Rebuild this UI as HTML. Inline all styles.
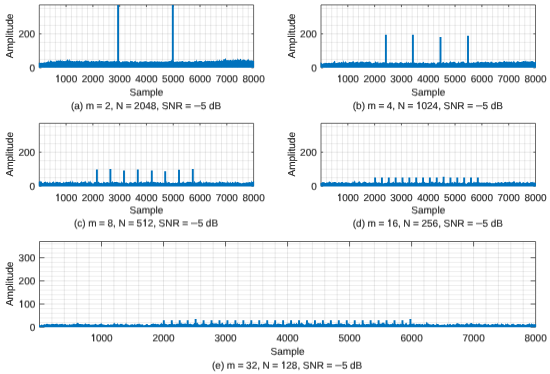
<!DOCTYPE html>
<html><head><meta charset="utf-8"><title>Figure</title>
<style>html,body{margin:0;padding:0;background:#fff;width:550px;height:374px;overflow:hidden}body{position:relative}</style>
</head><body>
<svg width="550" height="374" viewBox="0 0 550 374" style="position:absolute;left:0;top:0;filter:blur(0.35px)">
<defs><filter id="sf1" x="-5%" y="-40%" width="110%" height="180%"><feConvolveMatrix order="1 3" kernelMatrix="0 0.9 0.1" edgeMode="none"/></filter><filter id="sf2" x="-5%" y="-40%" width="110%" height="180%"><feConvolveMatrix order="1 3" kernelMatrix="0 0.8 0.2" edgeMode="none"/></filter><filter id="sf3" x="-5%" y="-40%" width="110%" height="180%"><feConvolveMatrix order="1 3" kernelMatrix="0 0.7 0.3" edgeMode="none"/></filter><filter id="sf4" x="-5%" y="-40%" width="110%" height="180%"><feConvolveMatrix order="1 3" kernelMatrix="0 0.6 0.4" edgeMode="none"/></filter><filter id="sf5" x="-5%" y="-40%" width="110%" height="180%"><feConvolveMatrix order="1 3" kernelMatrix="0 0.5 0.5" edgeMode="none"/></filter><filter id="sf6" x="-5%" y="-40%" width="110%" height="180%"><feConvolveMatrix order="1 3" kernelMatrix="0 0.4 0.6" edgeMode="none"/></filter><filter id="sf7" x="-5%" y="-40%" width="110%" height="180%"><feConvolveMatrix order="1 3" kernelMatrix="0 0.3 0.7" edgeMode="none"/></filter><filter id="sf8" x="-5%" y="-40%" width="110%" height="180%"><feConvolveMatrix order="1 3" kernelMatrix="0 0.2 0.8" edgeMode="none"/></filter><filter id="sf9" x="-5%" y="-40%" width="110%" height="180%"><feConvolveMatrix order="1 3" kernelMatrix="0 0.1 0.9" edgeMode="none"/></filter></defs>
<rect width="550" height="374" fill="#ffffff"/>
<g><path d="M44.66 4.9V67.9M50.02 4.9V67.9M55.37 4.9V67.9M60.73 4.9V67.9M71.44 4.9V67.9M76.8 4.9V67.9M82.16 4.9V67.9M87.52 4.9V67.9M98.23 4.9V67.9M103.59 4.9V67.9M108.95 4.9V67.9M114.31 4.9V67.9M125.02 4.9V67.9M130.38 4.9V67.9M135.74 4.9V67.9M141.09 4.9V67.9M151.81 4.9V67.9M157.17 4.9V67.9M162.52 4.9V67.9M167.88 4.9V67.9M178.6 4.9V67.9M183.95 4.9V67.9M189.31 4.9V67.9M194.67 4.9V67.9M205.38 4.9V67.9M210.74 4.9V67.9M216.1 4.9V67.9M221.46 4.9V67.9M232.17 4.9V67.9M237.53 4.9V67.9M242.88 4.9V67.9M248.24 4.9V67.9" stroke="#000000" stroke-opacity="0.105" stroke-width="0.8" fill="none"/><path d="M39.3 59.39H253.6M39.3 50.87H253.6M39.3 42.36H253.6M39.3 25.33H253.6M39.3 16.82H253.6M39.3 8.31H253.6" stroke="#000000" stroke-opacity="0.085" stroke-width="0.8" fill="none"/><path d="M66.09 4.9V67.9M92.88 4.9V67.9M119.66 4.9V67.9M146.45 4.9V67.9M173.24 4.9V67.9M200.03 4.9V67.9M226.81 4.9V67.9M39.3 33.85H253.6" stroke="#000000" stroke-opacity="0.1" stroke-width="0.85" fill="none"/><path d="M39.3 67.3V4.9H253.6V67.3M66.09 4.9v2.14M92.88 4.9v2.14M119.66 4.9v2.14M146.45 4.9v2.14M173.24 4.9v2.14M200.03 4.9v2.14M226.81 4.9v2.14M39.3 67.9h2.14M253.6 67.9h-2.14M39.3 33.85h2.14M253.6 33.85h-2.14" stroke="#3a3a3a" stroke-width="0.75" fill="none"/><path d="M38.8 67.8L38.8 62.75L39.3 62.75L39.8 62.74L40.3 62.75L40.8 62.92L41.3 62.81L41.8 62.76L42.3 62.95L42.8 62.79L43.3 62.81L43.8 62.52L44.3 62.45L44.79 62.16L45.29 62.44L45.79 62.4L46.29 62.37L46.79 61.93L47.29 61.77L47.79 61.76L48.29 60.04L48.79 62.11L49.29 62.28L49.79 61.57L50.29 60.68L50.79 60.29L51.29 60.79L51.79 61.24L52.29 61.29L52.79 61.92L53.29 61.56L53.79 61.39L54.29 61.36L54.79 61.79L55.29 62.03L55.78 61.36L56.28 60.76L56.78 60.61L57.28 60.75L57.78 60.84L58.28 60.61L58.78 60.54L59.28 60.59L59.78 60.72L60.28 60.76L60.78 59.18L61.28 60.91L61.78 61.04L62.28 59.99L62.78 61.48L63.28 61.12L63.78 61.09L64.28 60.88L64.78 61.32L65.28 60.86L65.78 61.23L66.27 61L66.77 59.93L67.27 59.43L67.77 59.47L68.27 59.97L68.77 60.9L69.27 60.61L69.77 58.75L70.27 60.73L70.77 61.07L71.27 61.22L71.77 60.92L72.27 60.93L72.77 61.05L73.27 61.4L73.77 61.13L74.27 61.02L74.77 61.16L75.27 61.6L75.77 61.32L76.27 60.88L76.77 60.63L77.26 60.61L77.76 61.19L78.26 61.27L78.76 60.97L79.26 60.47L79.76 60.65L80.26 61.25L80.76 61.39L81.26 61.17L81.76 61.11L82.26 61.4L82.76 61.63L83.26 61.58L83.76 61.44L84.26 61.16L84.76 60.74L85.26 60.24L85.76 60.66L86.26 60.6L86.76 60.81L87.26 60.93L87.75 60.76L88.25 60.4L88.75 61.24L89.25 61.58L89.75 61.67L90.25 61.81L90.75 61.42L91.25 60.72L91.75 61.08L92.25 61.27L92.75 61.49L93.25 61.08L93.75 61.07L94.25 61.46L94.75 61.44L95.25 61.49L95.75 61.1L96.25 61.21L96.75 60.95L97.25 61.31L97.75 61.58L98.24 61.46L98.74 60.66L99.24 60.43L99.74 60.07L100.24 60.64L100.74 61.38L101.24 60.89L101.74 60.93L102.24 61.13L102.74 60.9L103.24 61.25L103.74 61.28L104.24 61.45L104.74 61.27L105.24 61.16L105.74 61.02L106.24 60.82L106.74 61.05L107.24 60.85L107.74 60.81L108.24 61.19L108.74 61.47L109.23 61.74L109.73 61.5L110.23 61.41L110.73 61.37L111.23 61.36L111.73 61.54L112.23 61.31L112.73 61.42L113.23 61.2L113.73 61.23L114.23 60.79L114.73 60.85L115.23 61.54L115.73 61.47L116.23 61.62L116.73 60.66L117.23 60.97L117.73 61.16L118.23 61.65L118.73 61.5L119.23 61.33L119.72 60.87L120.22 61.91L120.72 62.36L121.22 62.24L121.72 61.92L122.22 61.39L122.72 61.33L123.22 61.51L123.72 61.54L124.22 61.61L124.72 61.16L125.22 61.38L125.72 61.2L126.22 61.33L126.72 61.28L127.22 61.77L127.72 61.11L128.22 62.08L128.72 61.52L129.22 62.13L129.72 62.32L130.22 60.51L130.71 61.34L131.21 61.14L131.71 61.04L132.21 61.29L132.71 61.16L133.21 61.87L133.71 62.08L134.21 61.51L134.71 61.21L135.21 60.56L135.71 61.54L136.21 61.58L136.71 62.13L137.21 61.58L137.71 62.01L138.21 62.39L138.71 62.4L139.21 62.03L139.71 61.35L140.21 61.62L140.71 61.21L141.2 61.86L141.7 61.62L142.2 61.88L142.7 61.53L143.2 61.62L143.7 61.64L144.2 61.37L144.7 61.51L145.2 61.28L145.7 61.31L146.2 61.3L146.7 61.52L147.2 61.65L147.7 61.63L148.2 61.91L148.7 61.82L149.2 61.87L149.7 61.51L150.2 61.46L150.7 61.17L151.2 61.47L151.7 61.31L152.19 61.44L152.69 61.39L153.19 61.78L153.69 61.87L154.19 61.26L154.69 61.26L155.19 61.43L155.69 61.58L156.19 61.67L156.69 61.42L157.19 61.49L157.69 61.31L158.19 61.44L158.69 61.78L159.19 61.34L159.69 61.85L160.19 61.64L160.69 61.65L161.19 61.34L161.69 61.4L162.19 61.88L162.68 61.63L163.18 61.7L163.68 61.68L164.18 61.57L164.68 61.76L165.18 61.57L165.68 61.54L166.18 61.38L166.68 61.61L167.18 61.77L167.68 61.53L168.18 61.57L168.68 61.18L169.18 61.13L169.68 60.98L170.18 61.08L170.68 61.35L171.18 59.61L171.68 60.45L172.18 60.76L172.68 61.5L173.18 61.35L173.67 60.96L174.17 61.9L174.67 61.64L175.17 62.08L175.67 61.5L176.17 61.67L176.67 61.4L177.17 61.33L177.67 61.56L178.17 61.89L178.67 61.66L179.17 61.56L179.67 61.44L180.17 61.62L180.67 61.55L181.17 61.6L181.67 61.13L182.17 61.02L182.67 60.97L183.17 61.58L183.67 61.67L184.16 62.09L184.66 61.86L185.16 61.89L185.66 61.49L186.16 61.62L186.66 62.01L187.16 62.12L187.66 61.8L188.16 61.3L188.66 61.25L189.16 61.22L189.66 61.3L190.16 61.34L190.66 61.88L191.16 61.85L191.66 62L192.16 61.87L192.66 61.79L193.16 62.07L193.66 61.67L194.16 61.53L194.66 61.07L195.15 61.2L195.65 61.05L196.15 61.13L196.65 59.27L197.15 61.44L197.65 61.42L198.15 61.68L198.65 61.09L199.15 61.01L199.65 61.12L200.15 61.07L200.65 60.92L201.15 60.91L201.65 61.03L202.15 61.49L202.65 61.81L203.15 61.93L203.65 61.79L204.15 61.15L204.65 61.29L205.15 61.14L205.64 59.91L206.14 61.1L206.64 61.23L207.14 61.15L207.64 60.45L208.14 61.17L208.64 60.75L209.14 60.89L209.64 60.77L210.14 61.24L210.64 61.37L211.14 61.1L211.64 60.79L212.14 60.98L212.64 61.16L213.14 60.86L213.64 60.83L214.14 60.92L214.64 61.56L215.14 61.23L215.64 61.28L216.13 60.74L216.63 60.92L217.13 59.14L217.63 60.93L218.13 60.99L218.63 60.88L219.13 59.34L219.63 60.35L220.13 60.79L220.63 60.93L221.13 60.56L221.63 60.32L222.13 60.28L222.63 61.09L223.13 60.49L223.63 58.75L224.13 59.86L224.63 58.97L225.13 58.73L225.63 57.95L226.13 60.1L226.63 60.24L227.12 60.25L227.62 60.02L228.12 60.59L228.62 59.81L229.12 60.68L229.62 60.07L230.12 60.03L230.62 59.76L231.12 60.28L231.62 60.48L232.12 60.32L232.62 60.21L233.12 58.45L233.62 60.43L234.12 60.2L234.62 59.96L235.12 59.56L235.62 59.68L236.12 59.79L236.62 60.01L237.12 60.16L237.61 57.93L238.11 59.84L238.61 59.53L239.11 59.42L239.61 60.13L240.11 58.99L240.61 58.71L241.11 59.21L241.61 60.81L242.11 60.32L242.61 59.65L243.11 59.55L243.61 59.5L244.11 60.01L244.61 59.52L245.11 60.1L245.61 60.4L246.11 60.53L246.61 60.49L247.11 60.31L247.61 59.36L248.11 60.25L248.6 58.55L249.1 60.37L249.6 60.44L250.1 60.41L250.6 60.52L251.1 60.29L251.6 60.45L252.1 60.31L252.6 60.85L253.1 60.65L253.6 60.99L254.1 60.99L254.1 67.8Z" fill="#0072BD"/><path d="M118.1 66.9V4.9M172.8 66.9V4.9" stroke="#0072BD" stroke-width="1.9" fill="none"/><g fill="#262626" stroke="#262626" stroke-width="0.15" font-family='"Liberation Sans", Arial, sans-serif' font-size="10" text-rendering="geometricPrecision"><text x="66.09" y="82" filter="url(#sf3)" text-anchor="middle"><tspan font-family="NanumGothic" font-weight="bold" font-size="9.5">1</tspan><tspan dx="-0.2">000</tspan></text><text x="92.88" y="82" filter="url(#sf3)" text-anchor="middle">2000</text><text x="119.66" y="82" filter="url(#sf3)" text-anchor="middle">3000</text><text x="146.45" y="82" filter="url(#sf3)" text-anchor="middle">4000</text><text x="173.24" y="82" filter="url(#sf3)" text-anchor="middle">5000</text><text x="200.03" y="82" filter="url(#sf3)" text-anchor="middle">6000</text><text x="226.81" y="82" filter="url(#sf3)" text-anchor="middle">7000</text><text x="253.6" y="82" filter="url(#sf3)" text-anchor="middle">8000</text><text x="35.1" y="71" filter="url(#sf5)" text-anchor="end">0</text><text x="35.1" y="37" filter="url(#sf4)" text-anchor="end">200</text><text x="146.45" y="95" filter="url(#sf6)" text-anchor="middle">Sample</text><text x="146.05" y="109" filter="url(#sf2)" text-anchor="middle" word-spacing="-0.22">(a) m = 2, N = 2048, SNR = <tspan font-family="DejaVu Sans" dx="-0.57">−</tspan><tspan dx="-0.77">5 dB</tspan></text><text transform="translate(13.1 35.9) rotate(-90)" x="0" y="0" text-anchor="middle">Amplitude</text></g></g>
<g><path d="M326.36 4.9V67.9M331.73 4.9V67.9M337.09 4.9V67.9M342.45 4.9V67.9M353.18 4.9V67.9M358.54 4.9V67.9M363.9 4.9V67.9M369.26 4.9V67.9M379.99 4.9V67.9M385.35 4.9V67.9M390.71 4.9V67.9M396.07 4.9V67.9M406.8 4.9V67.9M412.16 4.9V67.9M417.52 4.9V67.9M422.89 4.9V67.9M433.61 4.9V67.9M438.98 4.9V67.9M444.34 4.9V67.9M449.7 4.9V67.9M460.43 4.9V67.9M465.79 4.9V67.9M471.15 4.9V67.9M476.51 4.9V67.9M487.24 4.9V67.9M492.6 4.9V67.9M497.96 4.9V67.9M503.32 4.9V67.9M514.05 4.9V67.9M519.41 4.9V67.9M524.77 4.9V67.9M530.14 4.9V67.9" stroke="#000000" stroke-opacity="0.105" stroke-width="0.8" fill="none"/><path d="M321 59.39H535.5M321 50.87H535.5M321 42.36H535.5M321 25.33H535.5M321 16.82H535.5M321 8.31H535.5" stroke="#000000" stroke-opacity="0.085" stroke-width="0.8" fill="none"/><path d="M347.81 4.9V67.9M374.62 4.9V67.9M401.44 4.9V67.9M428.25 4.9V67.9M455.06 4.9V67.9M481.88 4.9V67.9M508.69 4.9V67.9M321 33.85H535.5" stroke="#000000" stroke-opacity="0.1" stroke-width="0.85" fill="none"/><path d="M321 67.3V4.9H535.5V67.3M347.81 4.9v2.15M374.62 4.9v2.15M401.44 4.9v2.15M428.25 4.9v2.15M455.06 4.9v2.15M481.88 4.9v2.15M508.69 4.9v2.15M321 67.9h2.15M535.5 67.9h-2.15M321 33.85h2.15M535.5 33.85h-2.15" stroke="#3a3a3a" stroke-width="0.75" fill="none"/><path d="M320.5 67.8L320.5 62.44L321 62.44L321.5 63.01L322 63.38L322.5 63.9L323 63.61L323.5 63.37L324 63.29L324.5 63.32L325 62.39L325.5 63.18L326 62.71L326.5 62.88L327 62.91L327.5 63.23L328 62.94L328.5 62.97L329 62.58L329.5 62.93L330 62.92L330.5 63.21L331 63.08L331.5 62.75L332 62.84L332.5 63.24L333 62.27L333.5 62.39L334 61.46L334.5 61.1L335 60.63L335.5 63.16L336 63.1L336.5 63.1L337 62.88L337.5 62.63L338 62.77L338.5 62.39L339 62.3L339.5 62.12L340 62.84L340.5 62.73L341 62.37L341.5 61.75L342 62.17L342.5 62.36L343 62.82L343.5 60.08L344 62.39L344.5 62.3L345 62.39L345.5 60.69L346 62.18L346.5 62.56L347 62.77L347.5 63.06L348 63.1L348.5 62.77L349 61.96L349.5 62.05L350 62.07L350.5 62.21L351 62.02L351.5 62.23L352 62L352.5 61.63L353 60.84L353.5 61.41L354 61.81L354.5 62.81L355 62.5L355.5 62.29L356 62.02L356.5 62L357 61.86L357.5 61.51L358 61.98L358.5 62.38L359 62.71L359.5 62.18L360 61.91L360.5 62.03L361 60.56L361.5 62.04L362 61.78L362.5 61.57L363 61.8L363.5 62.12L364 62.13L364.5 62.44L365 61.98L365.5 62.26L366 61.71L366.5 61.85L367 61.85L367.5 61.98L368 61.88L368.5 61.72L369 61.65L369.5 61.46L370 61.59L370.5 61.93L371 62.59L371.5 62.85L372 63.4L372.5 63.27L373 63.02L373.5 62.9L374 62.57L374.5 62.96L375 62.27L375.5 61.01L376 61.93L376.5 62.43L377 62.33L377.5 62.61L378 60.95L378.5 63.1L379 63.38L379.5 62.79L380 62.61L380.5 62.56L381 62.93L381.5 63.15L382 62.11L382.5 62.7L383 62.36L383.5 62.19L384 62.18L384.5 62.29L385 62.81L385.5 63.3L386 63.12L386.5 63.08L387 62.63L387.5 63.37L388 63.22L388.5 63.46L389 62.69L389.5 62.5L390 62.42L390.5 62.56L391 62.86L391.5 62.41L392 62.68L392.5 62.36L393 63.2L393.5 62.96L394 63.47L394.5 62.67L395 62.86L395.5 62.35L396 62.59L396.5 62.48L397 62.63L397.5 62.82L398 63.01L398.5 63.26L399 63.17L399.5 62.63L400 62.26L400.5 62.23L401 62.04L401.5 62.44L402 62.43L402.5 62.9L403 62.95L403.5 63.19L404 63.31L404.5 62.81L405 62.72L405.5 62.75L406 62.79L406.5 61.25L407 63.01L407.5 62.74L408 62.51L408.5 62.05L409 62.85L409.5 63.02L410 63.06L410.5 62.55L411 62.37L411.5 62.59L412 63.21L412.5 63.37L413 63.36L413.5 63.12L414 62.41L414.5 62.57L415 62.64L415.5 63.11L416 62.85L416.5 62.78L417 63.32L417.5 63.56L418 63.13L418.5 63L419 62.47L419.5 62.88L420 62.37L420.5 63.08L421 62.74L421.5 63.23L422 63.07L422.5 62.84L423 62L423.5 61.85L424 62.62L424.5 63.16L425 63.25L425.5 62.87L426 63.02L426.5 63.1L427 63.23L427.5 62.8L428 63L428.5 63.28L429 63.2L429.5 63.49L430 63.32L430.5 63.53L431 62.46L431.5 62.44L432 62.71L432.5 63.05L433 62.42L433.5 62.57L434 62.57L434.5 62.91L435 62.38L435.5 64.04L436 64.4L436.5 63.56L437 63.19L437.5 62.36L438 62.51L438.5 62.15L439 62.4L439.5 61.97L440 62.3L440.5 62.64L441 63.08L441.5 63.15L442 62.9L442.5 62.54L443 61.86L443.5 61.99L444 62.49L444.5 62.89L445 63.13L445.5 62.63L446 62.54L446.5 62.17L447 62.14L447.5 62.73L448 63.13L448.5 63.25L449 62.57L449.5 62.33L450 62.15L450.5 60.46L451 62.12L451.5 62.39L452 62L452.5 62.2L453 61.95L453.5 61.8L454 61.67L454.5 61.83L455 62.14L455.5 62.4L456 62.95L456.5 63.23L457 63.13L457.5 62.92L458 62.53L458.5 60.99L459 62.9L459.5 62.72L460 62.54L460.5 62.6L461 62.25L461.5 61.86L462 61.52L462.5 61.7L463 61.61L463.5 61.48L464 62.1L464.5 62.44L465 63.34L465.5 63.1L466 63.31L466.5 62.65L467 62.81L467.5 62.21L468 61.7L468.5 61.42L469 61.9L469.5 62.79L470 63.13L470.5 63.05L471 62.42L471.5 62.65L472 62.86L472.5 62.93L473 62.52L473.5 61.91L474 62.41L474.5 62.52L475 62.74L475.5 62.46L476 62.46L476.5 62.37L477 61.94L477.5 61.49L478 61.15L478.5 61.57L479 62.46L479.5 62.46L480 62.37L480.5 61.9L481 62.08L481.5 62.09L482 61.7L482.5 62.25L483 62.04L483.5 62.35L484 62.21L484.5 62.25L485 61.76L485.5 61.44L486 61.74L486.5 62.17L487 62.36L487.5 61.89L488 61.94L488.5 62.06L489 62.34L489.5 62.79L490 62.54L490.5 62.26L491 61.36L491.5 61.7L492 61.95L492.5 62.61L493 62.43L493.5 62.85L494 62.91L494.5 62.7L495 62.35L495.5 62.3L496 62.07L496.5 62.37L497 62.39L497.5 62.95L498 62.53L498.5 62.29L499 61.75L499.5 61.81L500 61.58L500.5 61.88L501 61.73L501.5 61.95L502 62.22L502.5 62.01L503 62.17L503.5 61.35L504 61.13L504.5 60.86L505 61.36L505.5 62.02L506 61.63L506.5 61.6L507 61.52L507.5 62.25L508 60.83L508.5 62.33L509 61.76L509.5 61.73L510 61.48L510.5 61.9L511 61.69L511.5 61.58L512 61.55L512.5 62.25L513 62.55L513.5 61.08L514 60.75L514.5 62.1L515 62.16L515.5 62.68L516 62.48L516.5 62.1L517 61.51L517.5 61.16L518 61.08L518.5 61.54L519 62L519.5 61.99L520 62.12L520.5 61.97L521 62.04L521.5 61.67L522 61.59L522.5 61.63L523 61.03L523.5 61.05L524 61.32L524.5 61.15L525 61.28L525.5 61.35L526 60.31L526.5 61.77L527 61.53L527.5 61.43L528 61.31L528.5 61.72L529 61.56L529.5 61.7L530 61.4L530.5 61.58L531 61.4L531.5 61L532 60.95L532.5 61.06L533 61.5L533.5 61.48L534 62.25L534.5 62.02L535 62.27L535.5 61.43L536 61.43L536 67.8Z" fill="#0072BD"/><path d="M385.9 66.9V34.7M412.9 66.9V34.7M440.5 66.9V36.9M468 66.9V35.8" stroke="#0072BD" stroke-width="1.9" fill="none"/><g fill="#262626" stroke="#262626" stroke-width="0.15" font-family='"Liberation Sans", Arial, sans-serif' font-size="10" text-rendering="geometricPrecision"><text x="347.81" y="82" filter="url(#sf3)" text-anchor="middle"><tspan font-family="NanumGothic" font-weight="bold" font-size="9.5">1</tspan><tspan dx="-0.2">000</tspan></text><text x="374.62" y="82" filter="url(#sf3)" text-anchor="middle">2000</text><text x="401.44" y="82" filter="url(#sf3)" text-anchor="middle">3000</text><text x="428.25" y="82" filter="url(#sf3)" text-anchor="middle">4000</text><text x="455.06" y="82" filter="url(#sf3)" text-anchor="middle">5000</text><text x="481.88" y="82" filter="url(#sf3)" text-anchor="middle">6000</text><text x="508.69" y="82" filter="url(#sf3)" text-anchor="middle">7000</text><text x="535.5" y="82" filter="url(#sf3)" text-anchor="middle">8000</text><text x="316.8" y="71" filter="url(#sf5)" text-anchor="end">0</text><text x="316.8" y="37" filter="url(#sf4)" text-anchor="end">200</text><text x="428.25" y="95" filter="url(#sf6)" text-anchor="middle">Sample</text><text x="427.85" y="109" filter="url(#sf1)" text-anchor="middle" word-spacing="-0.22">(b) m = 4, N = <tspan font-family="NanumGothic" font-weight="bold" font-size="9.5">1</tspan><tspan dx="-0.2">024, SNR = </tspan><tspan font-family="DejaVu Sans" dx="-0.57">−</tspan><tspan dx="-0.77">5 dB</tspan></text><text transform="translate(294.8 35.9) rotate(-90)" x="0" y="0" text-anchor="middle">Amplitude</text></g></g>
<g><path d="M44.66 123.3V186.2M50.02 123.3V186.2M55.37 123.3V186.2M60.73 123.3V186.2M71.44 123.3V186.2M76.8 123.3V186.2M82.16 123.3V186.2M87.52 123.3V186.2M98.23 123.3V186.2M103.59 123.3V186.2M108.95 123.3V186.2M114.31 123.3V186.2M125.02 123.3V186.2M130.38 123.3V186.2M135.74 123.3V186.2M141.09 123.3V186.2M151.81 123.3V186.2M157.17 123.3V186.2M162.52 123.3V186.2M167.88 123.3V186.2M178.6 123.3V186.2M183.95 123.3V186.2M189.31 123.3V186.2M194.67 123.3V186.2M205.38 123.3V186.2M210.74 123.3V186.2M216.1 123.3V186.2M221.46 123.3V186.2M232.17 123.3V186.2M237.53 123.3V186.2M242.88 123.3V186.2M248.24 123.3V186.2" stroke="#000000" stroke-opacity="0.105" stroke-width="0.8" fill="none"/><path d="M39.3 177.7H253.6M39.3 169.2H253.6M39.3 160.7H253.6M39.3 143.7H253.6M39.3 135.2H253.6M39.3 126.7H253.6" stroke="#000000" stroke-opacity="0.085" stroke-width="0.8" fill="none"/><path d="M66.09 123.3V186.2M92.88 123.3V186.2M119.66 123.3V186.2M146.45 123.3V186.2M173.24 123.3V186.2M200.03 123.3V186.2M226.81 123.3V186.2M39.3 152.2H253.6" stroke="#000000" stroke-opacity="0.1" stroke-width="0.85" fill="none"/><path d="M39.3 185.6V123.3H253.6V185.6M66.09 123.3v2.14M92.88 123.3v2.14M119.66 123.3v2.14M146.45 123.3v2.14M173.24 123.3v2.14M200.03 123.3v2.14M226.81 123.3v2.14M39.3 186.2h2.14M253.6 186.2h-2.14M39.3 152.2h2.14M253.6 152.2h-2.14" stroke="#3a3a3a" stroke-width="0.75" fill="none"/><path d="M38.8 186.5L38.8 181.71L39.3 181.71L39.8 180.63L40.3 182.08L40.8 180.49L41.3 181.77L41.8 181.61L42.3 182.97L42.8 183.08L43.3 183.22L43.8 182.3L44.3 182.07L44.79 181.89L45.29 181.86L45.79 181.53L46.29 182.36L46.79 182.71L47.29 181.46L47.79 182.6L48.29 182.75L48.79 182.94L49.29 182.8L49.79 181.5L50.29 182.36L50.79 182.98L51.29 182.96L51.79 182.76L52.29 181.81L52.79 182.37L53.29 182.36L53.79 180.68L54.29 182.7L54.79 182.8L55.29 182.74L55.78 181.87L56.28 182.11L56.78 181.69L57.28 181.99L57.78 181.8L58.28 182.22L58.78 182.54L59.28 182.19L59.78 182.02L60.28 182.12L60.78 182.75L61.28 182.94L61.78 183L62.28 182.92L62.78 182.68L63.28 182.39L63.78 181.51L64.28 182.46L64.78 182.64L65.28 182.29L65.78 182.2L66.27 181.62L66.77 182L67.27 182.07L67.77 182.28L68.27 182.12L68.77 181.75L69.27 182.36L69.77 181.83L70.27 180.4L70.77 181.83L71.27 182.64L71.77 182.33L72.27 182.02L72.77 180.35L73.27 182.2L73.77 182.73L74.27 182.35L74.77 182.59L75.27 181.92L75.77 182.58L76.27 182.49L76.77 182.66L77.26 181.86L77.76 182.3L78.26 182.58L78.76 183.21L79.26 183.07L79.76 182.97L80.26 182.62L80.76 182.12L81.26 181.83L81.76 181.07L82.26 182.17L82.76 182.22L83.26 181.79L83.76 182.22L84.26 181L84.76 182.29L85.26 181.79L85.76 180.5L86.26 182.27L86.76 182.9L87.26 182.96L87.75 182.57L88.25 182.45L88.75 180.67L89.25 182.62L89.75 181.14L90.25 180.58L90.75 182.2L91.25 182.54L91.75 182.57L92.25 183.25L92.75 183.49L93.25 183.81L93.75 182.64L94.25 182.17L94.75 181.64L95.25 182.29L95.75 181.8L96.25 182.25L96.75 182.39L97.25 182.64L97.75 182.09L98.24 181.61L98.74 181.96L99.24 182.37L99.74 183.1L100.24 183.04L100.74 183.07L101.24 182.58L101.74 183.08L102.24 183.08L102.74 183.39L103.24 181.18L103.74 182.43L104.24 181.87L104.74 182.53L105.24 182.74L105.74 182.87L106.24 182.37L106.74 182.33L107.24 182.23L107.74 182.11L108.24 182.11L108.74 182.91L109.23 183.09L109.73 182.82L110.23 181.9L110.73 181.62L111.23 181.89L111.73 182.41L112.23 181.57L112.73 180.93L113.23 182.52L113.73 182.55L114.23 182.08L114.73 181.93L115.23 181.92L115.73 182.11L116.23 182.11L116.73 181.87L117.23 181.98L117.73 182.32L118.23 182.43L118.73 182.47L119.23 182.46L119.72 182.73L120.22 183.2L120.72 182.46L121.22 182.52L121.72 180.92L122.22 182.53L122.72 182.52L123.22 182.92L123.72 183.15L124.22 181.94L124.72 183.12L125.22 182.78L125.72 182.7L126.22 182.5L126.72 182.43L127.22 183.01L127.72 183.07L128.22 183.77L128.72 183.21L129.22 182.85L129.72 182.34L130.22 182.53L130.71 181.63L131.21 182.53L131.71 182.34L132.21 182.9L132.71 182.64L133.21 182.91L133.71 182.33L134.21 182.26L134.71 181.81L135.21 181.67L135.71 181.95L136.21 182.4L136.71 182.74L137.21 182.86L137.71 182.39L138.21 183.04L138.71 182.93L139.21 182.45L139.71 181.97L140.21 182.11L140.71 181.74L141.2 180.88L141.7 182.11L142.2 182.85L142.7 182.67L143.2 182.46L143.7 182.26L144.2 182.14L144.7 182.3L145.2 182.22L145.7 182.33L146.2 182.33L146.7 180.19L147.2 182.09L147.7 181.59L148.2 181.77L148.7 181.51L149.2 182.34L149.7 182.7L150.2 181.3L150.7 182.26L151.2 181.91L151.7 182.14L152.19 182.24L152.69 182.15L153.19 181.97L153.69 181.76L154.19 181.84L154.69 182.32L155.19 182.08L155.69 182.27L156.19 182.43L156.69 182.45L157.19 182.13L157.69 181.92L158.19 182.07L158.69 182.68L159.19 182.75L159.69 182.64L160.19 181.99L160.69 181.93L161.19 182.77L161.69 182.93L162.19 182.97L162.68 182.52L163.18 182.55L163.68 183.1L164.18 182.84L164.68 183.04L165.18 182.5L165.68 182.79L166.18 180.53L166.68 182.71L167.18 182.52L167.68 182.83L168.18 182.14L168.68 181.98L169.18 182.12L169.68 182.61L170.18 182.99L170.68 183.15L171.18 183.08L171.68 182.9L172.18 182.8L172.68 182.77L173.18 182.74L173.67 182.71L174.17 182.89L174.67 182.97L175.17 182.7L175.67 182.55L176.17 182.98L176.67 183.01L177.17 182.81L177.67 182.29L178.17 182.65L178.67 182.21L179.17 182.34L179.67 182.33L180.17 182.59L180.67 182.88L181.17 182.71L181.67 182.78L182.17 182.45L182.67 181.92L183.17 181.08L183.67 182.33L184.16 182.49L184.66 183.11L185.16 182.62L185.66 183.1L186.16 182.64L186.66 182.09L187.16 181.69L187.66 181.73L188.16 182.01L188.66 181.81L189.16 181.86L189.66 181.98L190.16 181.9L190.66 181.63L191.16 182.01L191.66 182.32L192.16 182.74L192.66 182.91L193.16 183.04L193.66 182.51L194.16 181.79L194.66 180.73L195.15 182.29L195.65 182.69L196.15 182.83L196.65 182.5L197.15 182.5L197.65 182.24L198.15 182.27L198.65 181.87L199.15 181.59L199.65 181.55L200.15 181.59L200.65 179.83L201.15 182.04L201.65 182.3L202.15 183.29L202.65 183.35L203.15 181.34L203.65 182.67L204.15 182.53L204.65 182.51L205.15 182.6L205.64 182.31L206.14 181.7L206.64 181.62L207.14 181.67L207.64 182.82L208.14 182.46L208.64 182.31L209.14 182.33L209.64 182.22L210.14 182.57L210.64 182.55L211.14 182.85L211.64 182.78L212.14 182.43L212.64 182.62L213.14 182.43L213.64 182.56L214.14 182.5L214.64 183.3L215.14 183.06L215.64 182.68L216.13 182.27L216.63 182.25L217.13 182.56L217.63 182.41L218.13 182.81L218.63 182.56L219.13 181.27L219.63 181.56L220.13 181.5L220.63 181.91L221.13 182.39L221.63 182.44L222.13 181.74L222.63 182.06L223.13 182.28L223.63 182.29L224.13 182.31L224.63 182.33L225.13 182.83L225.63 182.5L226.13 182.87L226.63 182.15L227.12 182.92L227.62 180.41L228.12 182.18L228.62 182.42L229.12 182.49L229.62 182.83L230.12 182.75L230.62 181.56L231.12 183.1L231.62 182.93L232.12 182.1L232.62 181.97L233.12 182.19L233.62 182.72L234.12 182.78L234.62 182.46L235.12 180.96L235.62 181.94L236.12 182.41L236.62 182.55L237.12 182.02L237.61 181.98L238.11 181.9L238.61 182.39L239.11 182.85L239.61 182.7L240.11 182.7L240.61 182.94L241.11 183.38L241.61 183.22L242.11 183.15L242.61 183.03L243.11 183.03L243.61 182.54L244.11 182.78L244.61 182.64L245.11 183.35L245.61 182.4L246.11 182.47L246.61 182.16L247.11 182.55L247.61 182.44L248.11 182.33L248.6 182.52L249.1 182.22L249.6 181.95L250.1 182.01L250.6 182.43L251.1 182.44L251.6 180.18L252.1 181.84L252.6 182.03L253.1 181.69L253.6 181.26L254.1 181.26L254.1 186.5Z" fill="#0072BD"/><path d="M96.9 185.2V169.6M110.4 185.2V169.1M124 185.2V170.4M137.8 185.2V169.6M151.8 185.2V170.4M165.2 185.2V171.2M179 185.2V169.8M192.8 185.2V169" stroke="#0072BD" stroke-width="1.9" fill="none"/><g fill="#262626" stroke="#262626" stroke-width="0.15" font-family='"Liberation Sans", Arial, sans-serif' font-size="10" text-rendering="geometricPrecision"><text x="66.09" y="201" filter="url(#sf2)" text-anchor="middle"><tspan font-family="NanumGothic" font-weight="bold" font-size="9.5">1</tspan><tspan dx="-0.2">000</tspan></text><text x="92.88" y="201" filter="url(#sf2)" text-anchor="middle">2000</text><text x="119.66" y="201" filter="url(#sf2)" text-anchor="middle">3000</text><text x="146.45" y="201" filter="url(#sf2)" text-anchor="middle">4000</text><text x="173.24" y="201" filter="url(#sf2)" text-anchor="middle">5000</text><text x="200.03" y="201" filter="url(#sf2)" text-anchor="middle">6000</text><text x="226.81" y="201" filter="url(#sf2)" text-anchor="middle">7000</text><text x="253.6" y="201" filter="url(#sf2)" text-anchor="middle">8000</text><text x="35.1" y="189" filter="url(#sf8)" text-anchor="end">0</text><text x="35.1" y="155" filter="url(#sf8)" text-anchor="end">200</text><text x="146.45" y="213" filter="url(#sf5)" text-anchor="middle">Sample</text><text x="146.05" y="226" filter="url(#sf5)" text-anchor="middle" word-spacing="-0.22">(c) m = 8, N = 5<tspan font-family="NanumGothic" font-weight="bold" font-size="9.5">1</tspan><tspan dx="-0.2">2, SNR = </tspan><tspan font-family="DejaVu Sans" dx="-0.57">−</tspan><tspan dx="-0.77">5 dB</tspan></text><text transform="translate(13.1 154.25) rotate(-90)" x="0" y="0" text-anchor="middle">Amplitude</text></g></g>
<g><path d="M326.36 123.3V186.2M331.73 123.3V186.2M337.09 123.3V186.2M342.45 123.3V186.2M353.18 123.3V186.2M358.54 123.3V186.2M363.9 123.3V186.2M369.26 123.3V186.2M379.99 123.3V186.2M385.35 123.3V186.2M390.71 123.3V186.2M396.07 123.3V186.2M406.8 123.3V186.2M412.16 123.3V186.2M417.52 123.3V186.2M422.89 123.3V186.2M433.61 123.3V186.2M438.98 123.3V186.2M444.34 123.3V186.2M449.7 123.3V186.2M460.43 123.3V186.2M465.79 123.3V186.2M471.15 123.3V186.2M476.51 123.3V186.2M487.24 123.3V186.2M492.6 123.3V186.2M497.96 123.3V186.2M503.32 123.3V186.2M514.05 123.3V186.2M519.41 123.3V186.2M524.77 123.3V186.2M530.14 123.3V186.2" stroke="#000000" stroke-opacity="0.105" stroke-width="0.8" fill="none"/><path d="M321 177.7H535.5M321 169.2H535.5M321 160.7H535.5M321 143.7H535.5M321 135.2H535.5M321 126.7H535.5" stroke="#000000" stroke-opacity="0.085" stroke-width="0.8" fill="none"/><path d="M347.81 123.3V186.2M374.62 123.3V186.2M401.44 123.3V186.2M428.25 123.3V186.2M455.06 123.3V186.2M481.88 123.3V186.2M508.69 123.3V186.2M321 152.2H535.5" stroke="#000000" stroke-opacity="0.1" stroke-width="0.85" fill="none"/><path d="M321 185.6V123.3H535.5V185.6M347.81 123.3v2.15M374.62 123.3v2.15M401.44 123.3v2.15M428.25 123.3v2.15M455.06 123.3v2.15M481.88 123.3v2.15M508.69 123.3v2.15M321 186.2h2.15M535.5 186.2h-2.15M321 152.2h2.15M535.5 152.2h-2.15" stroke="#3a3a3a" stroke-width="0.75" fill="none"/><path d="M320.5 186.5L320.5 183.05L321 183.05L321.5 182.67L322 182.25L322.5 181.92L323 182.38L323.5 181.97L324 182.19L324.5 182.21L325 183.03L325.5 183.04L326 183.12L326.5 182.33L327 182.83L327.5 182.21L328 182.87L328.5 182.21L329 181.42L329.5 181.48L330 181.72L330.5 182.12L331 182.4L331.5 182.95L332 182.39L332.5 182.42L333 181.81L333.5 182.48L334 181.94L334.5 182.08L335 181.93L335.5 182.09L336 182.43L336.5 182.43L337 183.06L337.5 183.05L338 182.76L338.5 182.3L339 182L339.5 182.44L340 182.86L340.5 182.74L341 182.39L341.5 181.97L342 182L342.5 182.1L343 182.27L343.5 182.94L344 182.87L344.5 182.83L345 182.43L345.5 182.31L346 182.29L346.5 182.18L347 182.62L347.5 182.38L348 182.72L348.5 182.44L349 182.82L349.5 182.68L350 182.94L350.5 183.17L351 183L351.5 182.82L352 182.63L352.5 182.34L353 181.05L353.5 182.37L354 182.31L354.5 180.59L355 180.69L355.5 182.7L356 182.65L356.5 182.6L357 183.18L357.5 182.49L358 182.51L358.5 181.81L359 181.54L359.5 181.35L360 181.76L360.5 182.45L361 183.32L361.5 183.08L362 183.13L362.5 182.36L363 182.58L363.5 181.95L364 181.73L364.5 181.57L365 181.64L365.5 182.02L366 182.04L366.5 182.66L367 182.7L367.5 182.92L368 182.89L368.5 182.99L369 181.67L369.5 182.62L370 182.46L370.5 182.74L371 182.97L371.5 183.09L372 182.18L372.5 182.68L373 182.72L373.5 182.16L374 182.64L374.5 182.53L375 182.94L375.5 182.75L376 182.72L376.5 181.51L377 182.76L377.5 182.79L378 182.63L378.5 182.43L379 181.97L379.5 182.63L380 182.47L380.5 182.92L381 183.07L381.5 183.66L382 183.68L382.5 183.27L383 183L383.5 183.4L384 183.2L384.5 182.96L385 182.84L385.5 182.95L386 183.1L386.5 182.95L387 182.59L387.5 182.18L388 181.35L388.5 181.57L389 182.13L389.5 182.52L390 182.91L390.5 182.82L391 183.09L391.5 182.77L392 182.54L392.5 182.33L393 182.26L393.5 181.31L394 182.61L394.5 182.88L395 182.7L395.5 181.23L396 182.36L396.5 182.5L397 182.39L397.5 182.58L398 182.59L398.5 182.57L399 182.43L399.5 182.3L400 182.18L400.5 182.56L401 182.7L401.5 183.24L402 183.05L402.5 181.01L403 181.72L403.5 182.09L404 182.85L404.5 182.85L405 182.21L405.5 182.54L406 182.91L406.5 183.3L407 183.08L407.5 181.72L408 183.23L408.5 182.02L409 182.63L409.5 182.47L410 182.75L410.5 182.75L411 182.72L411.5 182L412 182.2L412.5 182.46L413 183.17L413.5 182.68L414 182.47L414.5 182.18L415 182.35L415.5 182.24L416 182.47L416.5 182.16L417 182.05L417.5 182.42L418 182.99L418.5 183.3L419 183L419.5 182.44L420 182.49L420.5 182.92L421 182.73L421.5 182.85L422 181.88L422.5 182.21L423 182.01L423.5 182.21L424 181.91L424.5 181.86L425 182.43L425.5 182.7L426 182.99L426.5 182.57L427 183.14L427.5 182.83L428 183.09L428.5 182.8L429 182.85L429.5 183.26L430 183.67L430.5 183.72L431 181.75L431.5 182.35L432 180.7L432.5 182.06L433 182.34L433.5 182.52L434 182.52L434.5 182.67L435 182.34L435.5 182.07L436 182.23L436.5 182.79L437 182.92L437.5 182.96L438 182.58L438.5 182.65L439 181.85L439.5 182.24L440 181.58L440.5 183.04L441 183.01L441.5 183.04L442 182.8L442.5 181.42L443 182.87L443.5 182.79L444 182.5L444.5 182.75L445 183.03L445.5 183.5L446 183.28L446.5 183.37L447 182.71L447.5 182.89L448 182.6L448.5 183.21L449 183.22L449.5 183.07L450 182.78L450.5 182.71L451 182.75L451.5 182.53L452 182.2L452.5 182.04L453 183.09L453.5 183.58L454 181.05L454.5 182.27L455 181.99L455.5 182.25L456 182.73L456.5 182.51L457 182.69L457.5 182.87L458 182.89L458.5 182.99L459 182.36L459.5 182.68L460 182.54L460.5 183.23L461 182.96L461.5 182.91L462 182.74L462.5 182.62L463 182.57L463.5 182.08L464 182.2L464.5 182.38L465 182.78L465.5 183.62L466 183.79L466.5 183.94L467 183.24L467.5 182.82L468 182.52L468.5 181.98L469 182.48L469.5 182.28L470 182.59L470.5 182.05L471 182.44L471.5 183.03L472 183.05L472.5 182.93L473 182.6L473.5 182.44L474 180.88L474.5 182.39L475 182.25L475.5 182.49L476 182.08L476.5 182.53L477 181.98L477.5 182.18L478 181.94L478.5 182.39L479 182.27L479.5 182.4L480 182.62L480.5 182.76L481 182.8L481.5 182.57L482 182.6L482.5 182.73L483 182.39L483.5 182.72L484 182.62L484.5 182.54L485 182.73L485.5 182.69L486 182.85L486.5 182.26L487 182.16L487.5 182.21L488 182.49L488.5 182.89L489 182.58L489.5 182.44L490 182.47L490.5 182.85L491 183.05L491.5 183.15L492 183.19L492.5 183.2L493 182.78L493.5 183.15L494 183.3L494.5 183.13L495 182.81L495.5 182.25L496 182.71L496.5 182.75L497 183L497.5 182.62L498 181.99L498.5 182.22L499 182.3L499.5 182.67L500 182.66L500.5 182.52L501 182.45L501.5 182.09L502 181.91L502.5 182.68L503 182.81L503.5 183.06L504 182.68L504.5 181.92L505 182L505.5 181.78L506 182.33L506.5 182.46L507 181.93L507.5 182.18L508 182.29L508.5 182.23L509 181.85L509.5 181.58L510 182.13L510.5 182.33L511 182.45L511.5 182.51L512 182.32L512.5 182.19L513 181.8L513.5 181.61L514 181.01L514.5 181.59L515 182.09L515.5 183.2L516 182.56L516.5 182.5L517 182.08L517.5 182.42L518 182.64L518.5 182.59L519 182.47L519.5 181.75L520 181.47L520.5 182.07L521 182.86L521.5 183.46L522 182.87L522.5 182.63L523 182.06L523.5 182.31L524 182.38L524.5 182.72L525 183.07L525.5 182.85L526 182.92L526.5 182.12L527 182.61L527.5 181.26L528 182.65L528.5 182.41L529 182.94L529.5 182.95L530 182.79L530.5 182.07L531 182.15L531.5 182.06L532 182.23L532.5 182.15L533 181.51L533.5 182.49L534 182.67L534.5 182.18L535 182.75L535.5 182.93L536 182.93L536 186.5Z" fill="#0072BD"/><path d="M375.1 185.2V177.6M381.95 185.2V177.6M388.8 185.2V177.6M395.65 185.2V177.6M402.5 185.2V177.6M409.35 185.2V177.6M416.2 185.2V177.6M423.05 185.2V177.6M429.9 185.2V177.6M436.75 185.2V177.6M443.6 185.2V176.7M450.45 185.2V177.6M457.3 185.2V177.6M464.15 185.2V177.6M471 185.2V177.6M477.85 185.2V177.6" stroke="#0072BD" stroke-width="1.9" fill="none"/><g fill="#262626" stroke="#262626" stroke-width="0.15" font-family='"Liberation Sans", Arial, sans-serif' font-size="10" text-rendering="geometricPrecision"><text x="347.81" y="201" filter="url(#sf1)" text-anchor="middle"><tspan font-family="NanumGothic" font-weight="bold" font-size="9.5">1</tspan><tspan dx="-0.2">000</tspan></text><text x="374.62" y="201" filter="url(#sf1)" text-anchor="middle">2000</text><text x="401.44" y="201" filter="url(#sf1)" text-anchor="middle">3000</text><text x="428.25" y="201" filter="url(#sf1)" text-anchor="middle">4000</text><text x="455.06" y="201" filter="url(#sf1)" text-anchor="middle">5000</text><text x="481.88" y="201" filter="url(#sf1)" text-anchor="middle">6000</text><text x="508.69" y="201" filter="url(#sf1)" text-anchor="middle">7000</text><text x="535.5" y="201" filter="url(#sf1)" text-anchor="middle">8000</text><text x="316.8" y="189" filter="url(#sf8)" text-anchor="end">0</text><text x="316.8" y="155" filter="url(#sf8)" text-anchor="end">200</text><text x="428.25" y="213" filter="url(#sf5)" text-anchor="middle">Sample</text><text x="427.85" y="226" filter="url(#sf7)" text-anchor="middle" word-spacing="-0.22">(d) m = <tspan font-family="NanumGothic" font-weight="bold" font-size="9.5">1</tspan><tspan dx="-0.2">6, N = 256, SNR = </tspan><tspan font-family="DejaVu Sans" dx="-0.57">−</tspan><tspan dx="-0.77">5 dB</tspan></text><text transform="translate(294.8 154.25) rotate(-90)" x="0" y="0" text-anchor="middle">Amplitude</text></g></g>
<g><path d="M51.9 241.5V327.2M64.31 241.5V327.2M76.71 241.5V327.2M89.11 241.5V327.2M113.92 241.5V327.2M126.32 241.5V327.2M138.72 241.5V327.2M151.12 241.5V327.2M175.93 241.5V327.2M188.33 241.5V327.2M200.73 241.5V327.2M213.14 241.5V327.2M237.94 241.5V327.2M250.34 241.5V327.2M262.75 241.5V327.2M275.15 241.5V327.2M299.95 241.5V327.2M312.36 241.5V327.2M324.76 241.5V327.2M337.16 241.5V327.2M361.97 241.5V327.2M374.37 241.5V327.2M386.77 241.5V327.2M399.17 241.5V327.2M423.98 241.5V327.2M436.38 241.5V327.2M448.78 241.5V327.2M461.19 241.5V327.2M485.99 241.5V327.2M498.39 241.5V327.2M510.8 241.5V327.2M523.2 241.5V327.2" stroke="#000000" stroke-opacity="0.105" stroke-width="0.8" fill="none"/><path d="M39.5 322.57H535.6M39.5 317.94H535.6M39.5 313.3H535.6M39.5 308.67H535.6M39.5 299.41H535.6M39.5 294.77H535.6M39.5 290.14H535.6M39.5 285.51H535.6M39.5 276.24H535.6M39.5 271.61H535.6M39.5 266.98H535.6M39.5 262.35H535.6M39.5 253.08H535.6M39.5 248.45H535.6M39.5 243.82H535.6" stroke="#000000" stroke-opacity="0.085" stroke-width="0.8" fill="none"/><path d="M101.51 241.5V327.2M163.53 241.5V327.2M225.54 241.5V327.2M287.55 241.5V327.2M349.56 241.5V327.2M411.58 241.5V327.2M473.59 241.5V327.2M39.5 304.04H535.6M39.5 280.88H535.6M39.5 257.71H535.6" stroke="#000000" stroke-opacity="0.1" stroke-width="0.85" fill="none"/><path d="M39.5 326.6V241.5H535.6V326.6M101.51 241.5v4.96M163.53 241.5v4.96M225.54 241.5v4.96M287.55 241.5v4.96M349.56 241.5v4.96M411.58 241.5v4.96M473.59 241.5v4.96M39.5 327.2h4.96M535.6 327.2h-4.96M39.5 304.04h4.96M535.6 304.04h-4.96M39.5 280.88h4.96M535.6 280.88h-4.96M39.5 257.71h4.96M535.6 257.71h-4.96" stroke="#3a3a3a" stroke-width="0.75" fill="none"/><path d="M39 327.2L39 324.71L39.5 324.71L40 325.28L40.5 325.32L41 325.01L41.5 324.47L42 324.58L42.5 325.08L43 325.3L43.5 324.74L44 324.02L44.5 324.3L45 324.62L45.5 324.42L46 323.99L46.5 323.64L47 323.92L47.5 323.82L48 323.93L48.5 324.23L49 324.34L49.5 324.37L50 324.33L50.5 324.56L51 324.29L51.5 324.12L52 323.66L52.5 324.03L53 323.77L53.5 324.02L54 324.06L54.5 324.31L55 324.04L55.5 323.94L56 323.74L56.5 323.66L57 323.82L57.5 323.82L58 324.46L58.5 324.59L59 324.36L59.5 324.13L60 323.66L60.5 324.18L61 324.12L61.5 323.9L62 323.83L62.5 323.75L63 324.5L63.5 324.26L64 324.51L64.51 323.99L65.01 324.2L65.51 323.8L66.01 324.45L66.51 324.68L67.01 324.86L67.51 324.17L68.01 325.38L68.51 324.56L69.01 324.65L69.51 323.66L70.01 324.55L70.51 324.6L71.01 324.67L71.51 324.32L72.01 324.57L72.51 324.43L73.01 323.3L73.51 324.3L74.01 323.53L74.51 323.72L75.01 324.41L75.51 324.05L76.01 323.96L76.51 323.41L77.01 323.29L77.51 322.79L78.01 322.71L78.51 323.21L79.01 323.94L79.51 323.92L80.01 323.88L80.51 323.93L81.01 323.89L81.51 324.13L82.01 323.98L82.51 324.17L83.01 324.23L83.51 324.58L84.01 324.56L84.51 324.25L85.01 323.44L85.51 323.52L86.01 323.75L86.51 324.29L87.01 324.22L87.51 324.19L88.01 323.93L88.51 323.92L89.01 324.08L89.51 324.17L90.01 324.33L90.51 324.77L91.01 324.99L91.51 324.56L92.01 324.52L92.51 324.48L93.01 324.64L93.51 324.43L94.01 324.35L94.51 324.43L95.01 324.04L95.51 323.78L96.01 323.95L96.51 324.38L97.01 324.55L97.51 324.65L98.01 324.85L98.51 324.62L99.01 324.58L99.51 324.03L100.01 324.07L100.51 323.74L101.01 323.52L101.51 323.15L102.01 324.32L102.51 324.33L103.01 324.41L103.51 324.62L104.01 324.83L104.51 324.76L105.01 324.81L105.51 325.05L106.01 325.09L106.51 325L107.01 324.71L107.51 324.32L108.01 324.2L108.51 324.22L109.01 324.62L109.51 325.1L110.01 324.9L110.51 324.36L111.01 324.46L111.51 324.74L112.01 324.09L112.51 324.7L113.01 324.42L113.51 323.41L114.02 323.26L114.52 322.51L115.02 324.5L115.52 323.53L116.02 324.47L116.52 323.99L117.02 324.1L117.52 323.11L118.02 324.06L118.52 324.43L119.02 324.82L119.52 324.53L120.02 323.96L120.52 323.83L121.02 323.88L121.52 324.02L122.02 323.56L122.52 324.23L123.02 324.63L123.52 324.81L124.02 324.54L124.52 324.65L125.02 324.29L125.52 323.92L126.02 322.59L126.52 324.25L127.02 324.36L127.52 324.4L128.02 324.22L128.52 324.72L129.02 325.33L129.52 325.21L130.02 324.5L130.52 324.64L131.02 324.52L131.52 324.61L132.02 323.93L132.52 324.3L133.02 324.71L133.52 324.8L134.02 324.45L134.52 324.32L135.02 323.17L135.52 324.99L136.02 324.85L136.52 324.45L137.02 323.7L137.52 324.07L138.02 324.28L138.52 324.01L139.02 323.49L139.52 323.63L140.02 324.46L140.52 324.35L141.02 324.52L141.52 324.42L142.02 324.5L142.52 324.28L143.02 324.53L143.52 325.15L144.02 325.41L144.52 325.05L145.02 324.9L145.52 324.64L146.02 324.53L146.52 324.02L147.02 324.06L147.52 324.06L148.02 324.99L148.52 324.94L149.02 325.28L149.52 324.91L150.02 324.91L150.52 324.87L151.02 323.97L151.52 324.03L152.02 323.93L152.52 323.86L153.02 323.53L153.52 323.57L154.02 324.1L154.52 324.1L155.02 323.73L155.52 323.64L156.02 324.09L156.52 324.29L157.02 324.34L157.52 323.97L158.02 323.83L158.52 324.23L159.02 324.47L159.52 324.64L160.02 324.25L160.52 323.81L161.02 323.46L161.52 322.57L162.02 323.99L162.52 323.93L163.02 323.34L163.53 323.32L164.03 323.46L164.53 323.76L165.03 323.64L165.53 323.8L166.03 323.96L166.53 324.29L167.03 323.91L167.53 324.72L168.03 324.68L168.53 324.36L169.03 324.01L169.53 323.93L170.03 323.93L170.53 324.09L171.03 324.26L171.53 324.13L172.03 322.56L172.53 323.55L173.03 323.76L173.53 324.39L174.03 323.75L174.53 324.18L175.03 324.19L175.53 324.5L176.03 323.97L176.53 323.81L177.03 323.8L177.53 323.82L178.03 323.5L178.53 323.87L179.03 323.93L179.53 324.23L180.03 323.93L180.53 323.34L181.03 322.36L181.53 323.35L182.03 323.88L182.53 323.76L183.03 323.6L183.53 323.88L184.03 323.69L184.53 323.71L185.03 323.27L185.53 323.49L186.03 323.91L186.53 323.98L187.03 323.55L187.53 323.63L188.03 323.51L188.53 324.2L189.03 323.92L189.53 324.01L190.03 323.54L190.53 323.68L191.03 324.08L191.53 324.19L192.03 324.32L192.53 324.62L193.03 324.62L193.53 324.09L194.03 323.28L194.53 322.98L195.03 323.11L195.53 323.2L196.03 323.21L196.53 323.51L197.03 322.26L197.53 323.03L198.03 323.41L198.53 324.34L199.03 324.81L199.53 324.41L200.03 324.6L200.53 324.6L201.03 324.51L201.53 323.74L202.03 323.59L202.53 323.38L203.03 323.51L203.53 323.35L204.03 323.53L204.53 323.62L205.03 324.03L205.53 323.7L206.03 323.74L206.53 323.99L207.03 324.34L207.53 324.69L208.03 324.51L208.53 324.38L209.03 324.71L209.53 324.07L210.03 323.67L210.53 323.38L211.03 323.34L211.53 323.29L212.03 323.07L212.53 323.04L213.03 323.21L213.54 323.52L214.04 323.77L214.54 323.47L215.04 323.34L215.54 323.42L216.04 323.56L216.54 323.28L217.04 323.67L217.54 323.87L218.04 324.02L218.54 324.22L219.04 323.96L219.54 323.66L220.04 323.68L220.54 323.8L221.04 323.95L221.54 323.2L222.04 322.57L222.54 322.66L223.04 323.38L223.54 324.43L224.04 324.52L224.54 324.5L225.04 324.14L225.54 323.6L226.04 323.77L226.54 323.61L227.04 324.1L227.54 323.93L228.04 324.15L228.54 324.25L229.04 324.07L229.54 323.9L230.04 323.46L230.54 323.49L231.04 324.01L231.54 324.14L232.04 324.53L232.54 324.32L233.04 324.6L233.54 323.46L234.04 324.03L234.54 323.94L235.04 324.14L235.54 324.22L236.04 324.12L236.54 323.53L237.04 323.79L237.54 322.48L238.04 324.12L238.54 323.94L239.04 323.82L239.54 323.87L240.04 324.21L240.54 324.74L241.04 324.42L241.54 324.08L242.04 323.89L242.54 323.94L243.04 324.26L243.54 324.56L244.04 324.43L244.54 324.07L245.04 323.79L245.54 323.5L246.04 324.5L246.54 324.46L247.04 324.06L247.54 324.01L248.04 324.28L248.54 324.58L249.04 323.93L249.54 323.65L250.04 323.34L250.54 323.73L251.04 323.39L251.54 323.85L252.04 323.87L252.54 324.41L253.04 323.79L253.54 323.7L254.04 323.93L254.54 323.83L255.04 323.92L255.54 323.76L256.04 323.98L256.54 324.11L257.04 323.85L257.54 324.34L258.04 324.26L258.54 324.41L259.04 324.6L259.54 324.68L260.04 324.96L260.54 324.14L261.04 323.77L261.54 323.65L262.04 324.18L262.54 324.33L263.05 324.32L263.55 323.81L264.05 323.88L264.55 323.39L265.05 323.75L265.55 323.57L266.05 322.71L266.55 323.63L267.05 324.21L267.55 324.12L268.05 323.95L268.55 323.76L269.05 323.91L269.55 324.52L270.05 324.3L270.55 324.43L271.05 324.07L271.55 324.46L272.05 324.6L272.55 324.64L273.05 324.26L273.55 323.7L274.05 322.17L274.55 323.65L275.05 324.26L275.55 324.62L276.05 324.4L276.55 324.05L277.05 324.01L277.55 323.62L278.05 323.86L278.55 323.59L279.05 323.76L279.55 323.78L280.05 323.88L280.55 324.1L281.05 324.1L281.55 324.27L282.05 324.45L282.55 323.95L283.05 323.45L283.55 323.27L284.05 323.89L284.55 324.81L285.05 324.85L285.55 324.82L286.05 324.08L286.55 324.08L287.05 323.35L287.55 323.99L288.05 323.57L288.55 323.37L289.05 323.72L289.55 323.19L290.05 323.24L290.55 322.57L291.05 323.93L291.55 323.98L292.05 324.04L292.55 323.83L293.05 323.86L293.55 323.68L294.05 323.7L294.55 323.14L295.05 324.09L295.55 323.96L296.05 323.49L296.55 322.68L297.05 323.56L297.55 323.92L298.05 324.32L298.55 323.62L299.05 323.44L299.55 322.94L300.05 323.19L300.55 323.49L301.05 323.51L301.55 322.32L302.05 322.94L302.55 323.44L303.05 323.77L303.55 324.24L304.05 324.6L304.55 324.81L305.05 324.86L305.55 324.22L306.05 322.88L306.55 323.75L307.05 324.12L307.55 324.27L308.05 323.47L308.55 322.4L309.05 322.69L309.55 323.7L310.05 323.47L310.55 323.81L311.05 323.28L311.55 323.45L312.05 323.82L312.56 324.68L313.06 324.6L313.56 324.28L314.06 323.58L314.56 323.88L315.06 324.37L315.56 324.49L316.06 324.25L316.56 323.84L317.06 323.85L317.56 323.14L318.06 323.02L318.56 323.32L319.06 323.59L319.56 323.47L320.06 322.48L320.56 323.18L321.06 323.52L321.56 324.37L322.06 323.97L322.56 323.68L323.06 323.65L323.56 323.64L324.06 323.74L324.56 323.75L325.06 323.86L325.56 324.32L326.06 323.96L326.56 323.99L327.06 323.44L327.56 323.52L328.06 322.85L328.56 323.16L329.06 323.2L329.56 323.61L330.06 323.57L330.56 323.54L331.06 323.74L331.56 323.6L332.06 324.08L332.56 324.34L333.06 324.13L333.56 324.16L334.06 323.88L334.56 324.13L335.06 323.84L335.56 324.07L336.06 323.73L336.56 323.85L337.06 323.95L337.56 323.53L338.06 324.64L338.56 324.15L339.06 324.28L339.56 323.64L340.06 323.67L340.56 323.33L341.06 323.31L341.56 323.46L342.06 323.54L342.56 323.9L343.06 324.3L343.56 324.12L344.06 324.1L344.56 323.76L345.06 324.22L345.56 324.63L346.06 324.89L346.56 324.91L347.06 324.33L347.56 323.47L348.06 323.59L348.56 323.35L349.06 323.95L349.56 323.78L350.06 324.21L350.56 324.69L351.06 324.91L351.56 324.99L352.06 324.42L352.56 324.28L353.06 324.15L353.56 323.85L354.06 324.25L354.56 323.43L355.06 323.91L355.56 323.81L356.06 324.53L356.56 323.92L357.06 324.1L357.56 324.36L358.06 324.57L358.56 324.22L359.06 323.27L359.56 323.75L360.06 324.42L360.56 324.77L361.06 324.57L361.56 324.58L362.07 324.3L362.57 323.58L363.07 323.52L363.57 323.32L364.07 323.71L364.57 324.05L365.07 324.47L365.57 324.5L366.07 324.07L366.57 324.12L367.07 324.34L367.57 323.99L368.07 323.85L368.57 324.05L369.07 324.58L369.57 324.33L370.07 323.72L370.57 321.98L371.07 323L371.57 323.58L372.07 324.09L372.57 323.39L373.07 322.34L373.57 323.51L374.07 322.9L374.57 323.75L375.07 323.12L375.57 323.78L376.07 324.26L376.57 324.31L377.07 324.01L377.57 323.92L378.07 323.69L378.57 323.68L379.07 323.28L379.57 323.7L380.07 323.78L380.57 323.65L381.07 323.68L381.57 323.45L382.07 323.23L382.57 322.64L383.07 322.03L383.57 323.13L384.07 322.58L384.57 323.74L385.07 324.39L385.57 324.23L386.07 323.02L386.57 323.74L387.07 323.63L387.57 323.44L388.07 323.74L388.57 323.66L389.07 324.45L389.57 324.26L390.07 324.37L390.57 324.03L391.07 324.21L391.57 323.97L392.07 323.63L392.57 323.04L393.07 323.44L393.57 323.78L394.07 324.05L394.57 323.82L395.07 323.59L395.57 323.88L396.07 324.35L396.57 324.52L397.07 323.88L397.57 323.76L398.07 323.8L398.57 324.2L399.07 323.76L399.57 324.61L400.07 324.3L400.57 323.61L401.07 323.76L401.57 324.06L402.07 324.53L402.57 324.15L403.07 323.86L403.57 323.71L404.07 324.15L404.57 324.5L405.07 324.14L405.57 322.7L406.07 323.46L406.57 322.61L407.07 324.13L407.57 324.77L408.07 324.78L408.57 324.42L409.07 323.94L409.57 323.89L410.07 323.89L410.57 323.89L411.07 323.9L411.57 323.72L412.08 323.87L412.58 323.79L413.08 323.85L413.58 323.85L414.08 322.69L414.58 324.54L415.08 324.55L415.58 324.71L416.08 324.08L416.58 323.87L417.08 324.08L417.58 324.11L418.08 324.42L418.58 323.68L419.08 323.91L419.58 323.94L420.08 323.49L420.58 324.54L421.08 324.6L421.58 324.31L422.08 324.07L422.58 323.85L423.08 324.39L423.58 324.76L424.08 324.7L424.58 323.39L425.08 324.5L425.58 324.23L426.08 323.43L426.58 321.87L427.08 321.95L427.58 323.56L428.08 323.52L428.58 323.68L429.08 323.94L429.58 324.27L430.08 324.48L430.58 324.28L431.08 324.66L431.58 324.57L432.08 324.47L432.58 324.3L433.08 323.98L433.58 323.99L434.08 324.36L434.58 324.93L435.08 324.76L435.58 324.91L436.08 324.64L436.58 323.37L437.08 323.94L437.58 324.1L438.08 324.18L438.58 324.35L439.08 324.48L439.58 325.18L440.08 325L440.58 325.04L441.08 324.53L441.58 325.1L442.08 324.68L442.58 324.75L443.08 324.65L443.58 324.82L444.08 324.43L444.58 324.33L445.08 324.6L445.58 324.91L446.08 325.44L446.58 325.11L447.08 323.88L447.58 323.58L448.08 324.64L448.58 324.52L449.08 324.48L449.58 323.94L450.08 323.71L450.58 323.92L451.08 324.64L451.58 325.03L452.08 324.66L452.58 324.16L453.08 323.97L453.58 324.24L454.08 324.37L454.58 324.55L455.08 324.63L455.58 324.43L456.08 323.73L456.58 323.58L457.08 323.32L457.58 323.03L458.08 323.92L458.58 323.17L459.08 324L459.58 323.82L460.08 324.64L460.58 324.25L461.08 324.38L461.59 324L462.09 323.99L462.59 324.41L463.09 324.2L463.59 324.24L464.09 324.46L464.59 324.66L465.09 324.25L465.59 324.01L466.09 323.5L466.59 323.37L467.09 323.29L467.59 323.41L468.09 323.68L468.59 324.46L469.09 324.85L469.59 323.73L470.09 323.54L470.59 323.19L471.09 323.05L471.59 323.03L472.09 323.43L472.59 323.67L473.09 324.34L473.59 323.79L474.09 324.34L474.59 324.03L475.09 324.35L475.59 324.21L476.09 323.97L476.59 323.37L477.09 324.18L477.59 324.33L478.09 324.03L478.59 323.42L479.09 323.23L479.59 323.58L480.09 324.02L480.59 324.41L481.09 324.31L481.59 324.54L482.09 324.63L482.59 324.42L483.09 324.66L483.59 323.98L484.09 324.22L484.59 323.65L485.09 323.84L485.59 323.72L486.09 324.02L486.59 324.76L487.09 324.61L487.59 324.45L488.09 324.04L488.59 323.9L489.09 324.56L489.59 324.93L490.09 325.23L490.59 324.73L491.09 324.33L491.59 324.41L492.09 324.31L492.59 324.09L493.09 324.04L493.59 324.43L494.09 324.57L494.59 324.29L495.09 323.6L495.59 323.96L496.09 324L496.59 324.14L497.09 323.55L497.59 323.35L498.09 324.15L498.59 324.61L499.09 324.5L499.59 324.54L500.09 324.7L500.59 324.77L501.09 323.62L501.59 323.53L502.09 323.64L502.59 324.29L503.09 323.91L503.59 324.38L504.09 324.79L504.59 325.13L505.09 324.77L505.59 323.3L506.09 324.41L506.59 324.05L507.09 324.3L507.59 323.05L508.09 324.53L508.59 324.25L509.09 324.56L509.59 324.76L510.09 325.29L510.59 324.97L511.1 324.47L511.6 323.94L512.1 323.87L512.6 324.32L513.1 323.29L513.6 324.28L514.1 324.3L514.6 324.77L515.1 324.78L515.6 324.91L516.1 324.98L516.6 324.49L517.1 324.22L517.6 323.94L518.1 324.3L518.6 324.04L519.1 324.01L519.6 324.19L520.1 324.42L520.6 323.68L521.1 324.91L521.6 324.69L522.1 324.15L522.6 324.11L523.1 324.08L523.6 324.32L524.1 324.23L524.6 324.67L525.1 324.75L525.6 325L526.1 324.62L526.6 324.66L527.1 324.12L527.6 324.29L528.1 324.15L528.6 324.08L529.1 323.37L529.6 323.58L530.1 323.91L530.6 324.61L531.1 324.19L531.6 322.92L532.1 324.09L532.6 324.27L533.1 323.58L533.6 324.56L534.1 324.35L534.6 324.21L535.1 324.02L535.6 324.28L536.1 324.28L536.1 327.2Z" fill="#0072BD"/><path d="M163.8 326.2V320.3M171.76 326.2V320.3M179.71 326.2V320.3M187.67 326.2V320.3M195.62 326.2V319.1M203.58 326.2V320.3M211.53 326.2V320.3M219.49 326.2V320.3M227.44 326.2V320.3M235.4 326.2V320.3M243.35 326.2V320.3M251.31 326.2V320.3M259.26 326.2V320.3M267.22 326.2V320.3M275.17 326.2V320.3M283.12 326.2V320.3M291.08 326.2V320.3M299.04 326.2V320.3M306.99 326.2V320.3M314.95 326.2V320.3M322.9 326.2V320.3M330.86 326.2V320.3M338.81 326.2V320.3M346.76 326.2V320.3M354.72 326.2V320.3M362.68 326.2V320.3M370.63 326.2V320.3M378.59 326.2V320.3M386.54 326.2V320.3M394.5 326.2V320.3M402.45 326.2V320.3M410.4 326.2V319.1" stroke="#0072BD" stroke-width="1.9" fill="none"/><g fill="#262626" stroke="#262626" stroke-width="0.15" font-family='"Liberation Sans", Arial, sans-serif' font-size="10" text-rendering="geometricPrecision"><text x="101.51" y="341" filter="url(#sf4)" text-anchor="middle"><tspan font-family="NanumGothic" font-weight="bold" font-size="9.5">1</tspan><tspan dx="-0.2">000</tspan></text><text x="163.53" y="341" filter="url(#sf4)" text-anchor="middle">2000</text><text x="225.54" y="341" filter="url(#sf4)" text-anchor="middle">3000</text><text x="287.55" y="341" filter="url(#sf4)" text-anchor="middle">4000</text><text x="349.56" y="341" filter="url(#sf4)" text-anchor="middle">5000</text><text x="411.58" y="341" filter="url(#sf4)" text-anchor="middle">6000</text><text x="473.59" y="341" filter="url(#sf4)" text-anchor="middle">7000</text><text x="535.6" y="341" filter="url(#sf4)" text-anchor="middle">8000</text><text x="35.3" y="330" filter="url(#sf8)" text-anchor="end">0</text><text x="35.3" y="307" filter="url(#sf6)" text-anchor="end"><tspan font-family="NanumGothic" font-weight="bold" font-size="9.5">1</tspan><tspan dx="-0.2">00</tspan></text><text x="35.3" y="284" filter="url(#sf4)" text-anchor="end">200</text><text x="35.3" y="261" filter="url(#sf3)" text-anchor="end">300</text><text x="287.55" y="354" filter="url(#sf8)" text-anchor="middle">Sample</text><text x="287.15" y="368" filter="url(#sf7)" text-anchor="middle" word-spacing="-0.22">(e) m = 32, N = <tspan font-family="NanumGothic" font-weight="bold" font-size="9.5">1</tspan><tspan dx="-0.2">28, SNR = </tspan><tspan font-family="DejaVu Sans" dx="-0.57">−</tspan><tspan dx="-0.77">5 dB</tspan></text><text transform="translate(13.3 283.85) rotate(-90)" x="0" y="0" text-anchor="middle">Amplitude</text></g></g>
</svg>
</body></html>
